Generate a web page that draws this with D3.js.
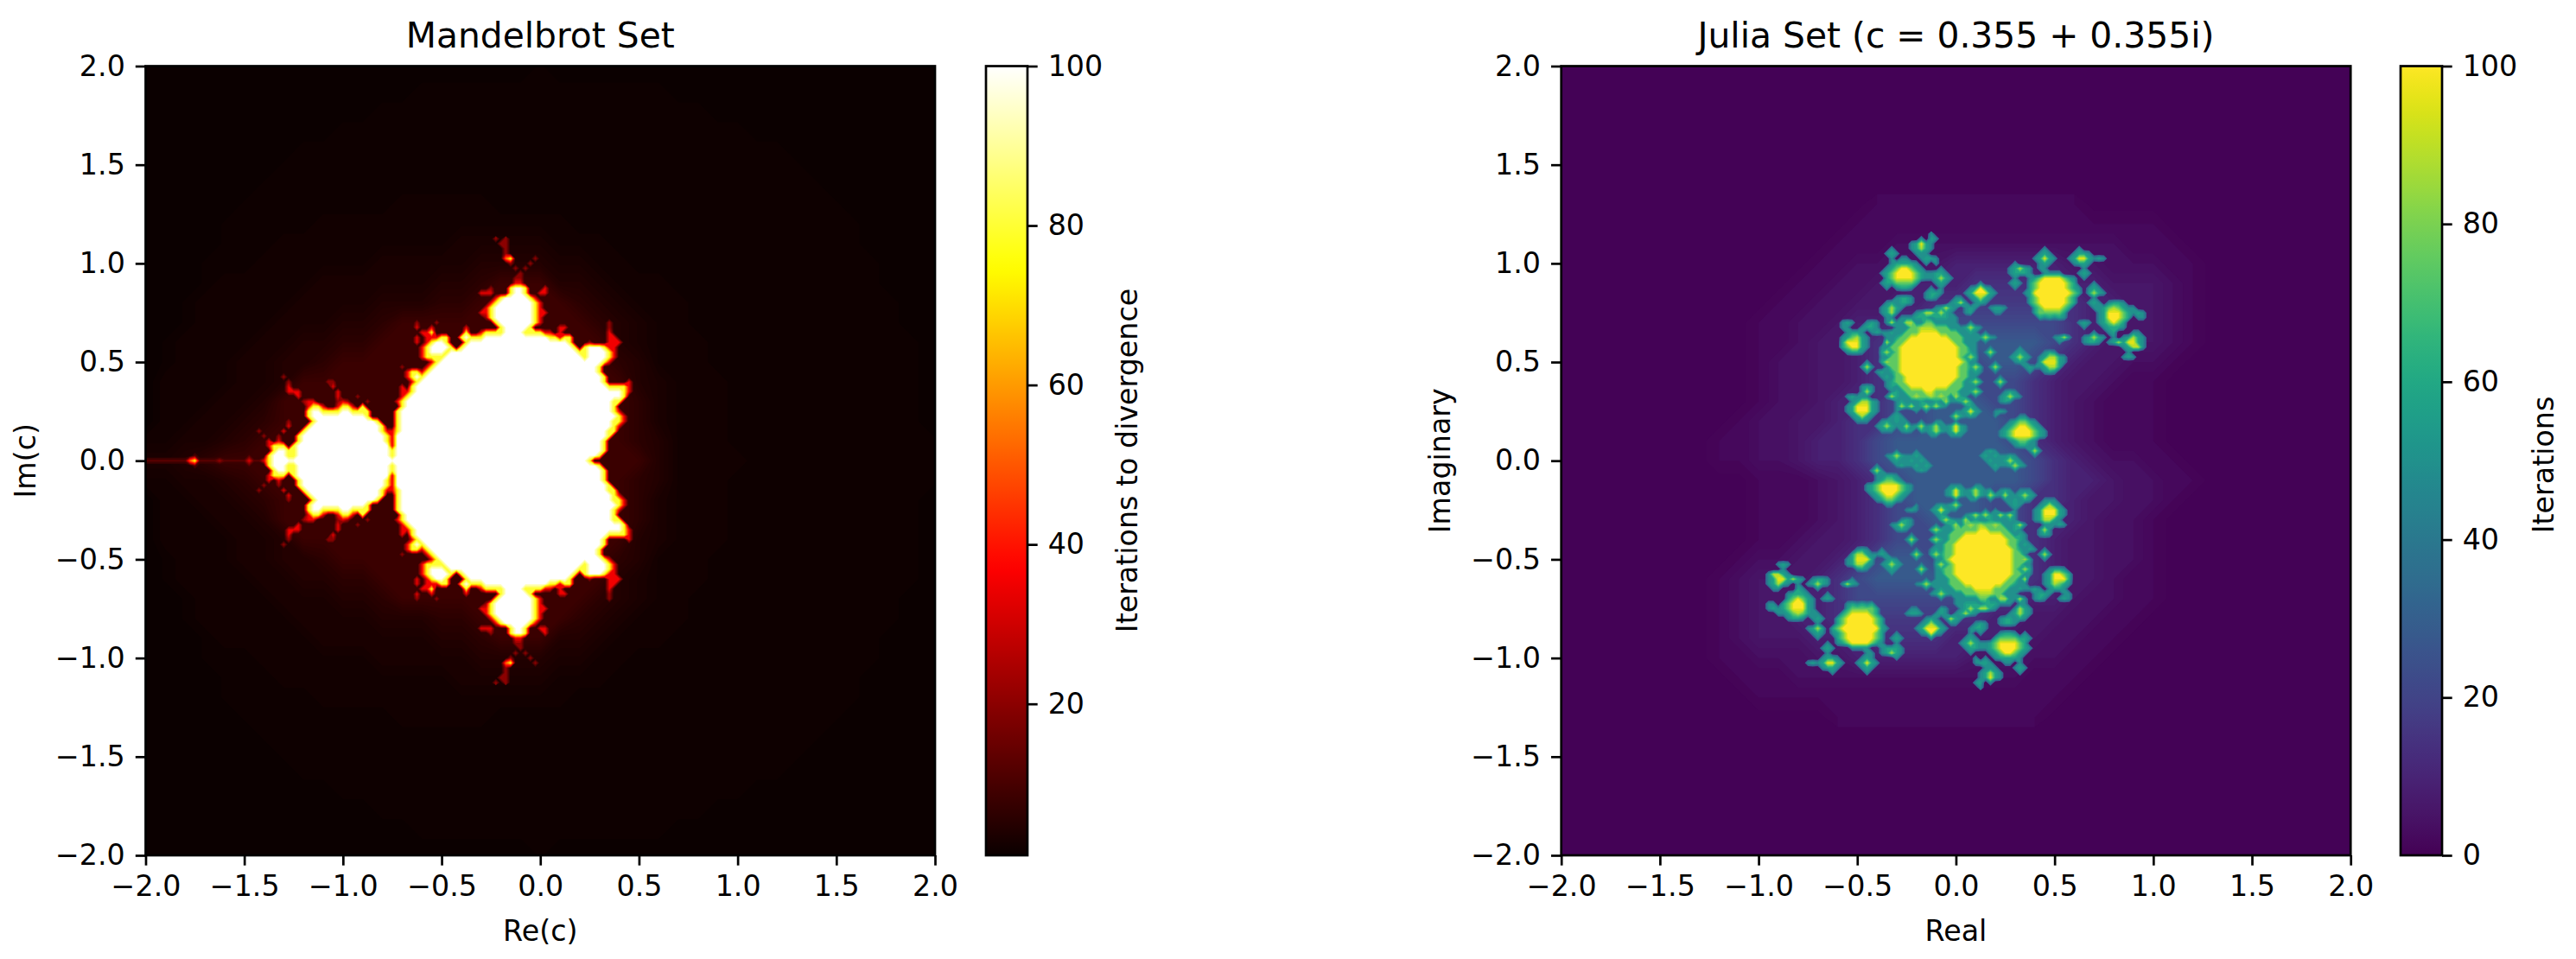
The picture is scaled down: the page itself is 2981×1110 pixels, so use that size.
<!DOCTYPE html>
<html><head><meta charset="utf-8">
<script src="https://cdn.jsdelivr.net/npm/d3@7"></script>
<style>html,body{margin:0;background:#fff}svg{display:block}text{font-family:"DejaVu Sans";fill:#000}</style>
</head><body><svg id="c" width="2981" height="1110"></svg>
<script>
// Iteration counts are coarse estimates read by eye from the picture and typed in;
// nothing is computed from the escape-time formula, so fine filaments are approximate.
const mandelTitle = "Mandelbrot Set", juliaTitle = "Julia Set (c = 0.355 + 0.355i)";
const mandelXLabel = "Re(c)", mandelYLabel = "Im(c)", mandelBarLabel = "Iterations to divergence";
const juliaXLabel = "Real", juliaYLabel = "Imaginary", juliaBarLabel = "Iterations";
const axisTicks = [-2, -1.5, -1, -0.5, 0, 0.5, 1, 1.5, 2];
const mandelBarTicks = [20, 40, 60, 80, 100], juliaBarTicks = [0, 20, 40, 60, 80, 100];
const hotStops = [0, 0.365079, 0.746032, 1], hotColors = ["#0b0000", "#ff0000", "#ffff00", "#ffffff"];

// Mandelbrot background, y = 2.0 .. 0 in steps of 0.1, x = -2 .. 2 (mirrored below y = 0)
const mandelBgChars = "0123456", mandelBgValues = [1, 1.6, 2.4, 3.4, 4.6, 6, 8];
const mandelBgRows = [
"0000000000 0000000000 1000000000 0000000000 0",
"0000000000 0000111111 1111111000 0000000000 0",
"0000000000 0011111111 1111111110 0000000000 0",
"0000000000 1111111111 1111111111 1000000000 0",
"0000000011 1111111111 1111111111 1110000000 0",
"0000000111 1111111111 1111111111 1111000000 0",
"0000001111 1111111111 1111111111 1111100000 0",
"0000011111 1112222211 1111111111 1111110000 0",
"0000111112 2222222222 2211111111 1111111000 0",
"0000111222 2222223333 3222111111 1111111000 0",
"0001112222 2233333444 4332211111 1111111100 0",
"0001222223 3333344566 6443222111 1111111100 0",
"0012222233 3344455666 6654322211 1111111110 0",
"0012222333 4456666666 6665432211 1111111110 0",
"0122223344 5566666666 6666432221 1111111111 0",
"0122233445 6666666666 6666542221 1111111111 0",
"0222233466 6666666666 6666643222 1111111111 0",
"0222334666 6666666666 6666653222 1111111111 0",
"0223345666 6666666666 6666653222 1111111111 0",
"2233456666 6666666666 6666654222 1111111111 1",
"3345666666 6666666666 6666664222 2111111111 1"];

// Mandelbrot edge detail, y = 1.125 .. 0 in steps of 0.025, x = -1.5 .. 0.475 (blocks of ten)
const mandelChars = ".trRoyW", mandelValues = [4, 14, 24, 36, 55, 80, 100];
const mandelNeedleRows = ["..........t.........", "tttttttttoyttttrtttt"];
const mandelRows = [
"_ _ _ _ _ .r.r......",
"_ _ _ _ _ ..rr......",
"_ _ _ _ _ ...r......",
"_ _ _ _ _ ...r......",
"_ _ _ _ _ ...oy....r",
"_ _ _ _ _ ....r...r.",
"_ _ _ _ _ .....r.r..",
"_ _ _ _ _ ......r...",
"_ _ _ _ _ .....rr...",
"_ _ _ _ _ .....RR...",
"_ _ _ _ _ r...yWWy.. .R........",
"_ _ _ _ ........RR R...yWWy.. RR........",
"_ _ _ _ _ .RyWWWWWyR",
"_ _ _ _ _ RyWWWWWWWy R.........",
"_ _ _ _ .........R yWWWWWWWWy R.........",
"_ _ _ _ ........RR yWWWWWWWWy RR........",
"_ _ _ _ .........r yWWWWWWWWy R.........",
"_ _ _ .....r...r _ .yWWWWWWWy R......... ....r.....",
"_ _ _ .....R..R. .....R.... ..yWWWWWy. ....RR.... ....r.....",
"_ _ _ ......RRy. .....y..Ry yyyWWWWyyy yRR.R..... ....R.....",
"_ _ _ .....R.RRR yy..yWyyyW # WWyyRyy... ....RR....",
"_ _ _ .....R.RyW Wy...yWWWW # WWWWWWy... r...RRR...",
"_ _ _ ......RyWW WWy.yWWWWW # WWWWWWWy.y WWWyRR....",
"_ _ _ ......RyWW WyWWWWWWWW # WWWWWWWWyy WWWWyR....",
"_ _ _ ......Ryyy yWWWWWWWWW # WWWWWWWWWy WWWWyR....",
"_ _ _ ........Ry # # # WWWyR.....",
"_ _ _ ..r....RyW # # # WWy.......",
"_ _ _ ...RyyRyWW # # # WWy.......",
"........r. _ _ ...RyWyWWW # # # WWWy......",
".........r .......rr. _ ....RyWWWW # # # WWWy....R.",
".........R ........R. _ ..R.yWWWWW # # # WWWWyyyyR.",
".........R RR.......R _ ..RRyWWWWW # # # WWWWWWWyR.",
"_ .R.......R ...r...... ..RyWWWWWW # # # WWWWWWWy..",
"_ ..rRR....r Rr...r.... .RyWWWWWWW # # # WWWWWyy...",
"_ ...RyyR..R yyR.y..... ..yWWWWWWW # # # WWWWWy....",
"_ ...yWWyyyy WWyyyy.... .yWWWWWWWW # # # WWWWWyR...",
"_ ...yWWWWWW WWWWWy.... .yWWWWWWWW # # # WWWWWWyR..",
".........r ....yWWWWW WWWWWWWy.. .yWWWWWWWW # # # WWWWWyyR..",
".........R ...yWWWWWW WWWWWWWWy. .yWWWWWWWW # # # WWWWWyR...",
"...r....R. ..yWWWWWWW WWWWWWWWyR RyWWWWWWWW # # # WWWWyy....",
"....r..r.. .yWWWWWWWW WWWWWWWWWy RWWWWWWWWW # # # WWWWy.....",
".....R.R.. .yWWWWWWWW WWWWWWWWWy RWWWWWWWWW # # # WWWy......",
".....Ryyy. yWWWWWWWWW # RWWWWWWWWW # # # WWWy......",
"......yWWy yWWWWWWWWW # yWWWWWWWWW # # # WWWy......",
".t...yWWWy yWWWWWWWWW # yWWWWWWWWW # # # WWy.......",
"tRttRyWWWW # # # # # # y........."];

// Julia background, y = 1.3 .. 0 in steps of 0.1, x = -2 .. 2 (lower half is the half-turn of this)
const juliaBgChars = "0123456789", juliaBgValues = [0.5, 2, 4, 6, 9, 11, 14, 17, 22, 28];
const juliaBgRows = [
"0000000000 0000001111 1111111000 0000000000 0",
"0000000000 0000011111 1111111111 1000000000 0",
"0000000000 0000111222 2222222221 1100000000 0",
"0000000000 0001122333 4444443322 2110000000 0",
"0000000000 0011223344 4666644433 3210000000 0",
"0000000000 0112233446 6777766443 3210000000 0",
"0000000000 1122344666 8888886443 3210000000 0",
"0000000000 1123346668 8999986433 3210000000 0",
"0000000000 1223346668 8899864332 2100000000 0",
"0000000000 1223346688 8888643321 1000000000 0",
"0000000000 1223446889 9988643211 1000000000 0",
"0000000001 2233466889 9998643211 1000000000 0",
"0000000011 2234468999 9998643211 1000000000 0",
"0000000011 2234468999 9999864322 1100000000 0"];

// Julia structure, y = 1.15 .. 0 in steps of 0.025, x = -1 .. 0.975 (blocks of ten)
const juliaChars = ".tglyY", juliaValues = [18, 50, 60, 78, 90, 100];
const juliaRows = [
"_ _ _ .....t....",
"_ _ _ ...t.gt...",
"_ _ _ .tgYgt....",
"_ _ .......t.. .tgygt.... _ ........t. .....t....",
"_ _ ......tgt. ..ttt..... _ .......tgt ....tggt..",
"_ _ .......t.t t..tggt... _ ......tgYg t..tgYYgtg t.........",
"_ _ .......tgg ggt.t.t... _ ..t....tgt ....tggt..",
"_ _ ......tglY Ylgt...t.. _ .tgygt.tt. ......t...",
"_ _ .....tglYY YYlgttggt. _ .tgggt..tt tt...tgt..",
"_ _ ......glYY YYlgttgygt _ ..t..tglYY YYlgt.t...",
"_ _ .....tggll llg...tgt. .....t.... .tgt.glYYY YYYlg...t.",
"_ _ ......t.tg gt...t.t.. ...tgYgt.. ..t..glYYY YYYlgt.tgt",
"_ _ _ ....tggt.. ..tgYYYgt. ....tgYYYY YYYYlg.gyg t.........",
"_ _ ........tg gt..tgt... tt.tgygt.. .....glYYY YYYlg...t.",
"_ _ ......tgtg gt.......t gyt.tgt... .....glYYY YYYlg..tgt .tggt.....",
"_ _ .....tgygt ......tgyg t.tgt..tgg t.....glYY YYlg....tt glylgtt...",
"_ _ .....tgyt. ..tgyygygt ..tg....tt ......glll llg......t gYYYlgtgt.",
"_ _ ......tt.t ttgggtgggt t......... .......gtg tgt......t gYYYlg.tt.",
"_ .......tgt ..tgt.tytt yyttlltttt t..t...... _ .....tgt.t glYlg.....",
"_ .......tt. .tggt...tt tllyyylllt ttgygt.... _ ......t... tgggt.....",
"_ ........tg gt.tgttgtt lllYYYYlll lttgt.t... _ ........t. .tg...tt..",
"_ .......tgl ygt...ttgl lYYYYYYYYl lltttgygt. _ tgyt..tgyg t.t.tgygt.",
"_ .......gYY Ygt...ytll YYYYYYYYYY llttt.t... _ .t....tggt .tgygYYgt.",
"_ .......glY Ygt..ttllY YYYYYYYYYY Ylltt..t.. ...t...... _ ....tgyyt.",
"_ ........tg gt...gyglY YYYYYYYYYY Yllgt.tyt. ..tgt...tg t......... .....t....",
"_ _ .....ttllY YYYYYYYYYY Ylgyg..t.. .tgygt.tgy ygt....... ....tgt...",
"_ _ ..t..gyllY YYYYYYYYYY YYltt...t. ..tgt..gYY Ygt.......",
"_ _ .tyt..tllY YYYYYYYYYY Yllgyg.tyt ....tgttgy yg........",
"_ _ ..t.tgtglY YYYYYYYYYY Ylltgt..t. .....t..tg t.........",
"_ _ .....tgtll YYYYYYYYYY Ylltt....t",
"_ _ ......tgll YYYYYYYYYY lltgyg..ty t.........",
"_ _ .tgt..tgtl lYYYYYYYYl llttt....t",
"_ _ .tyt...tgt llllYYllll lttgyg.... tgt.......",
"_ ........tg ttt...tygt tlyllylylt ygt.t....t gygt......",
"_ .........t gyygt...tg tttgttgtyt tgyg.....t gt........",
"_ ........tg YYYgt...ty gytgygygt. ..tgt.....",
"_ ........tg YYYgt...t. ..t.t..... ttgYgt..tg t.........",
"_ .........t gygt...tgt .........t ygtgt...t. ...tt.....",
"_ _ ttt..tgtgt t..t..tt.. t......... .tgllgt...",
"_ _ ....tgygtt ytgytgyttg Ygt....... tglYYlgt..",
"_ _ .....ttt.t gt.gtgygtg Ygt......t glYYYYlgt.",
"_ _ _ .....tt..t tt.......t glYYYYlgt.",
"_ _ _ _ _ .tgllgt...",
"_ _ _ _ _ ..tggtt...",
"_ _ ........t. ..t....... ......tgt. .....tyt..",
"_ _ ......tgyg ttgt...... .....tgtgt tgt...t...",
"_ _ .......tgt tgtgt..... ......tgtt gygt......"];

const mandelBgThresholds = [1.5, 2, 2.5, 3, 3.5, 4, 4.5, 5, 5.5, 6, 6.5, 7, 7.5, 8];
const mandelThresholds = [8, 12, 16, 20, 25, 30, 35, 40, 45, 50, 55, 60, 65, 70, 75, 80, 85, 90, 95, 100];
const juliaBgThresholds = d3.range(1, 29);
const juliaThresholds = [30, 35, 40, 45, 50, 55, 60, 65, 70, 75, 80, 85, 90, 95, 100];

// ---- drawing ----
const svg = d3.select("#c"), defs = svg.append("defs");
const hot = d3.scaleLinear().domain(hotStops.map(s => 1 + 99 * s)).range(hotColors).interpolate(d3.interpolateRgb);
const viridis = d3.scaleSequential(d3.interpolateViridis).domain([0, 100]);
const labelPx = 33.3, titlePx = 40.8, tickLen = 11.7, lineW = 2.7;

function expand(row, top) {
  return row.split(" ").map(b => b === "_" ? ".........." : b === "#" ? top.repeat(10) : b).join("");
}
const flat = r => r.replace(/ /g, "");
function toValues(rows, cols, chars, values) {
  const out = [];
  rows.forEach(r => { const s = r.padEnd(cols, chars[0]); for (let i = 0; i < cols; i++) out.push(values[chars.indexOf(s[i])]); });
  return out;
}
const mirror = rows => rows.concat(rows.slice(0, -1).reverse());
const halfTurn = rows => rows.concat(rows.slice(0, -1).reverse().map(r => [...r].reverse().join("")));

function layer(g, x, y, rows, cols, chars, values, x0, y0, step, thresholds, color) {
  const vals = toValues(rows, cols, chars, values);
  const bands = d3.contours().size([cols, rows.length]).thresholds(thresholds)(vals);
  const path = d3.geoPath(d3.geoTransform({ point(px, py) {
    this.stream.point(x(x0 + (px - 0.5) * step), y(y0 - (py - 0.5) * step));
  } }));
  g.selectAll(null).data(bands).join("path").attr("d", path).attr("fill", d => color(d.value));
}

function styleAxis(a) {
  a.select(".domain").remove();
  a.selectAll("line").attr("stroke", "#000").attr("stroke-width", lineW);
  a.selectAll("text").style("font-size", labelPx + "px").style("font-family", "DejaVu Sans").attr("fill", "#000");
}

function panel(o) {
  const L = o.left, W = 913.5, T = 76.5, H = 913.5;
  const x = d3.scaleLinear().domain([-2, 2]).range([L, L + W]);
  const y = d3.scaleLinear().domain([-2, 2]).range([T + H, T]);
  const id = "clip" + Math.round(L);
  defs.append("clipPath").attr("id", id).append("rect").attr("x", L).attr("y", T).attr("width", W).attr("height", H);
  const g = svg.append("g").attr("clip-path", `url(#${id})`);
  g.append("rect").attr("x", L).attr("y", T).attr("width", W).attr("height", H).attr("fill", o.color(o.base));
  o.layers(g, x, y);

  const fmt = v => d3.format(".1f")(v).replace("-", "\u2212");
  styleAxis(svg.append("g").attr("transform", `translate(0,${T + H})`)
    .call(d3.axisBottom(x).tickValues(axisTicks).tickFormat(fmt).tickSize(tickLen).tickPadding(12)));
  styleAxis(svg.append("g").attr("transform", `translate(${L},0)`)
    .call(d3.axisLeft(y).tickValues(axisTicks).tickFormat(fmt).tickSize(tickLen).tickPadding(12)));
  svg.append("rect").attr("x", L).attr("y", T).attr("width", W).attr("height", H)
    .attr("fill", "none").attr("stroke", "#000").attr("stroke-width", lineW);

  svg.append("text").attr("x", L + W / 2).attr("y", 55).attr("text-anchor", "middle").style("font-size", titlePx + "px").text(o.title);
  svg.append("text").attr("x", L + W / 2).attr("y", 1089).attr("text-anchor", "middle").style("font-size", labelPx + "px").text(o.xLabel);
  svg.append("text").attr("transform", `translate(${o.yLabelX},${T + H / 2}) rotate(-90)`).attr("text-anchor", "middle").style("font-size", labelPx + "px").text(o.yLabel);

  // colour bar
  const bx = o.barLeft, bw = 48;
  const by = d3.scaleLinear().domain(o.barDomain).range([T + H, T]);
  const gid = "grad" + Math.round(L);
  const grad = defs.append("linearGradient").attr("id", gid).attr("x1", 0).attr("x2", 0).attr("y1", 1).attr("y2", 0);
  d3.range(0, 1.0001, 0.02).forEach(f => grad.append("stop").attr("offset", f)
    .attr("stop-color", o.color(o.barDomain[0] + f * (o.barDomain[1] - o.barDomain[0]))));
  svg.append("rect").attr("x", bx).attr("y", T).attr("width", bw).attr("height", H)
    .attr("fill", `url(#${gid})`).attr("stroke", "#000").attr("stroke-width", lineW);
  styleAxis(svg.append("g").attr("transform", `translate(${bx + bw},0)`)
    .call(d3.axisRight(by).tickValues(o.barTicks).tickFormat(d3.format("d")).tickSize(tickLen).tickPadding(12)));
  svg.append("text").attr("transform", `translate(${o.barLabelX},${o.barLabelY}) rotate(-90)`).attr("text-anchor", "middle").style("font-size", labelPx + "px").text(o.barLabel);
}

panel({ left: 168.5, barLeft: 1141, yLabelX: 41, barLabelX: 1316, barLabelY: 533, title: mandelTitle, xLabel: mandelXLabel, yLabel: mandelYLabel,
  barLabel: mandelBarLabel, barDomain: [1, 100], barTicks: mandelBarTicks, color: hot, base: 1,
  layers(g, x, y) {
    layer(g, x, y, mirror(mandelBgRows.map(flat)), 41, mandelBgChars, mandelBgValues, -2, 2, 0.1, mandelBgThresholds, hot);
    const n = mandelRows.length;
    const rows = mandelRows.map((r, j) => (j >= n - 2 ? mandelNeedleRows[j - n + 2] : ".".repeat(20)) + expand(r, "W"));
    layer(g, x, y, mirror(rows), 100, mandelChars, mandelValues, -2, 1.125, 0.025, mandelThresholds, hot);
  } });

panel({ left: 1806.7, barLeft: 2778, yLabelX: 1678, barLabelX: 2955, barLabelY: 538, title: juliaTitle, xLabel: juliaXLabel, yLabel: juliaYLabel,
  barLabel: juliaBarLabel, barDomain: [0, 100], barTicks: juliaBarTicks, color: viridis, base: 0.5,
  layers(g, x, y) {
    layer(g, x, y, halfTurn(juliaBgRows.map(flat)), 41, juliaBgChars, juliaBgValues, -2, 1.3, 0.1, juliaBgThresholds, viridis);
    const rows = juliaRows.map(r => expand(r, "Y").padEnd(81, "."));
    layer(g, x, y, halfTurn(rows), 81, juliaChars, juliaValues, -1, 1.15, 0.025, juliaThresholds, viridis);
  } });
</script></body></html>
